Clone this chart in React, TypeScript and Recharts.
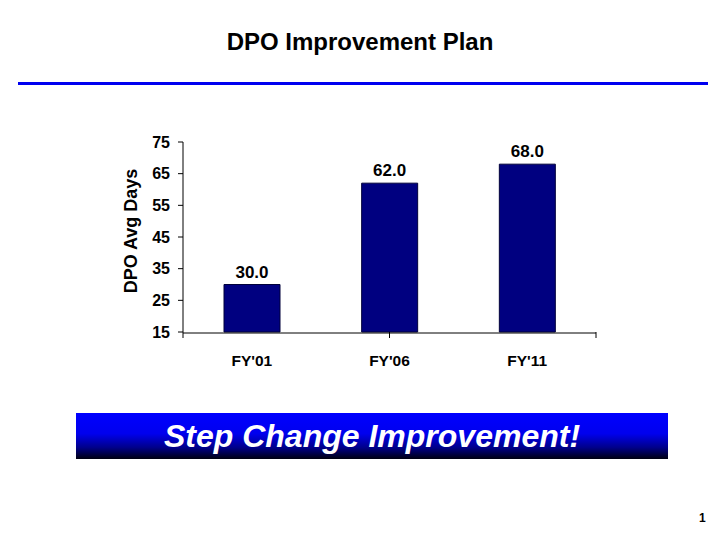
import { BarChart, Bar, XAxis, YAxis, LabelList } from 'recharts';

const categories = ["FY'01", "FY'06", "FY'11"];
const dpoDays = [30.0, 62.0, 68.0];
const yTicks = [15, 25, 35, 45, 55, 65, 75];
const boundaryTicks = [0, 1, 2, 3];

const data = categories.map((name, i) => ({ name, days: dpoDays[i] }));

const FONT = '"Liberation Sans", Arial, Helvetica, sans-serif';

function AxisTitle({ viewBox }: any) {
  const cx = viewBox.x + 18;
  const cy = viewBox.y + viewBox.height / 2 - 6;
  return (
    <text
      x={cx}
      y={cy}
      transform={`rotate(-90 ${cx} ${cy})`}
      textAnchor="middle"
      dominantBaseline="central"
      fontFamily={FONT}
      fontWeight="bold"
      fontSize={18}
      fill="#000"
    >
      DPO Avg Days
    </text>
  );
}

export default function App() {
  return (
    <div style={{ position: 'absolute', left: 0, top: 0, width: 720, height: 540, background: '#fff', fontFamily: FONT, overflow: 'hidden' }}>
      <div style={{ position: 'absolute', left: 0, top: 28, width: 720, textAlign: 'center', fontSize: 24, fontWeight: 'bold', color: '#000' }}>
        DPO Improvement Plan
      </div>
      <div style={{ position: 'absolute', left: 18, top: 82, width: 690, height: 3, background: '#0000f0' }} />

      <div style={{ position: 'absolute', left: 0, top: 0 }}>
        <BarChart
          width={720}
          height={540}
          data={data}
          margin={{ top: 142, right: 124, left: 113, bottom: 177 }}
        >
          {/* thin axis used only for the tick marks between categories */}
          <XAxis
            xAxisId="a_edge"
            type="number"
            domain={[0, 3]}
            allowDataOverflow
            ticks={boundaryTicks}
            tickCount={4}
            interval={0}
            tick={() => <g />}
            axisLine={false}
            tickLine={{ stroke: '#000' }}
            tickSize={6}
            height={1}
          />
          <XAxis
            xAxisId="b_cat"
            dataKey="name"
            axisLine={{ stroke: '#000' }}
            tickLine={false}
            tickSize={0}
            tickMargin={22}
            height={30}
            tick={{ fill: '#000', fontSize: 15.5, fontWeight: 'bold', fontFamily: FONT }}
          />
          <YAxis
            domain={[15, 75]}
            ticks={yTicks}
            interval={0}
            width={70}
            axisLine={{ stroke: '#000' }}
            tickLine={{ stroke: '#000' }}
            tickSize={5}
            tickMargin={8}
            tick={{ fill: '#000', fontSize: 16, fontWeight: 'bold', fontFamily: FONT }}
            label={{ content: AxisTitle }}
          />
          <Bar
            xAxisId="b_cat"
            dataKey="days"
            fill="#000080"
            stroke="#00003a"
            strokeWidth={1}
            barSize={56}
            isAnimationActive={false}
          >
            <LabelList
              dataKey="days"
              position="top"
              offset={7}
              formatter={(v: any) => Number(v).toFixed(1)}
              style={{ fill: '#000', fontSize: 17, fontWeight: 'bold', fontFamily: FONT }}
            />
          </Bar>
        </BarChart>
      </div>

      <div
        style={{
          position: 'absolute',
          left: 76,
          top: 413,
          width: 592,
          height: 46,
          background: 'linear-gradient(to bottom, #0000ff 0%, #0000ee 45%, #00008a 75%, #000010 100%)',
          color: '#fff',
          fontSize: 32,
          fontWeight: 'bold',
          fontStyle: 'italic',
          textAlign: 'center',
          lineHeight: '46px',
        }}
      >
        Step Change Improvement!
      </div>

      <div style={{ position: 'absolute', left: 699, top: 511, fontSize: 12, fontWeight: 'bold', color: '#000' }}>1</div>
    </div>
  );
}
